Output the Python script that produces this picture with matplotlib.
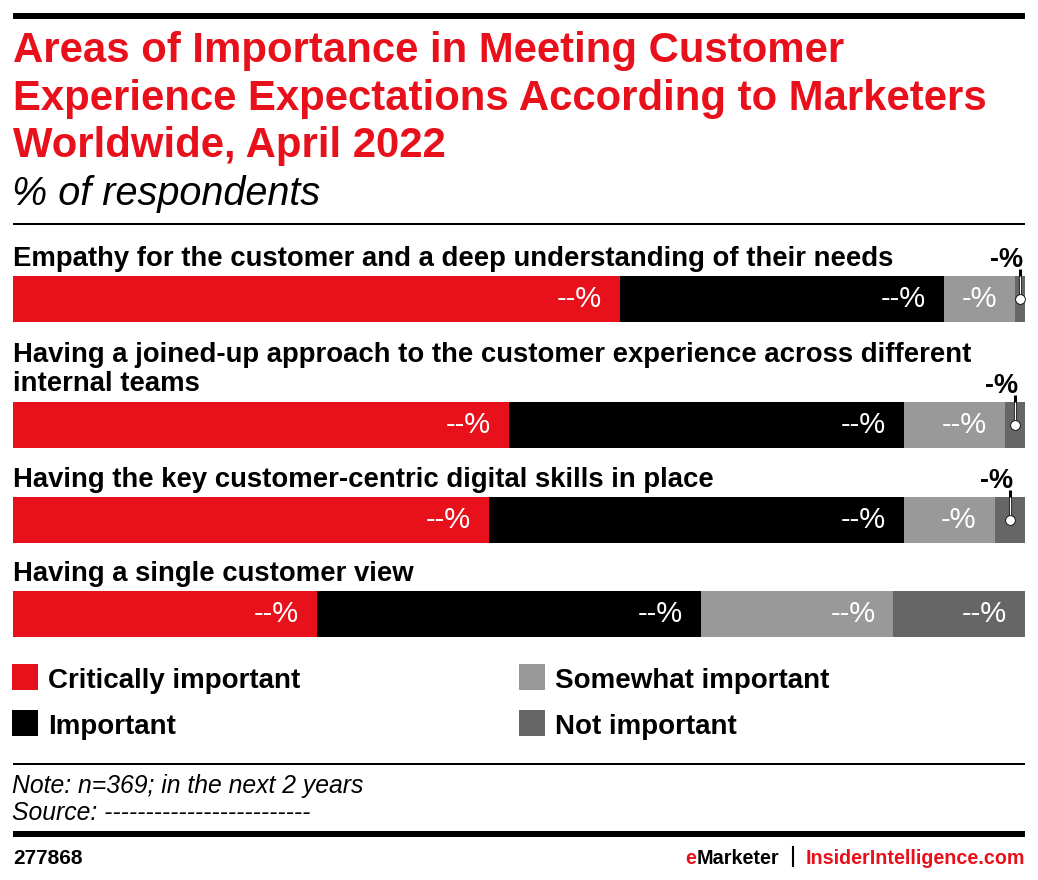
import matplotlib
matplotlib.use("Agg")
import matplotlib.pyplot as plt
import matplotlib.transforms as mtransforms
from matplotlib.patches import Rectangle

plt.rcParams["font.family"] = ["Liberation Sans", "DejaVu Sans"]

RED = "#e8101b"
COLORS = [RED, "#000000", "#999999", "#666666"]

title_lines = [
    "Areas of Importance in Meeting Customer",
    "Experience Expectations According to Marketers",
    "Worldwide, April 2022",
]
subtitle = "% of respondents"

categories = [
    "Empathy for the customer and a deep understanding of their needs",
    "Having a joined-up approach to the customer experience across different\ninternal teams",
    "Having the key customer-centric digital skills in place",
    "Having a single customer view",
]
series = ["Critically important", "Important", "Somewhat important", "Not important"]
critically = [60, 49, 47, 30]
important = [32, 39, 41, 38]
somewhat = [7, 10, 9, 19]
not_important = [1, 2, 3, 13]

note = "Note: n=369; in the next 2 years"
source = "Source: -------------------------"
chart_id = "277868"

W, H = 1038, 880
fig = plt.figure(figsize=(W / 100, H / 100), dpi=100)

# overlay in pixel coordinates for text and rules
ov = fig.add_axes([0, 0, 1, 1])
ov.set_xlim(0, W)
ov.set_ylim(H, 0)
ov.axis("off")


def rule(y, h):
    ov.add_patch(Rectangle((13, y), 1012, h, color="black", lw=0))


rule(13, 6)
rule(223, 2)
rule(763, 2)
rule(831, 6)

for line, yb in zip(title_lines, [62, 110, 157]):
    ov.text(13, yb, line, color=RED, fontsize=30.2, fontweight="bold", va="baseline")
ov.text(12, 205, subtitle, fontsize=28.5, fontstyle="italic", va="baseline")

# bar rows: label baseline, bar top (px)
label_y = [266, 362, 487, 581]
bar_top = [276, 402, 497, 591]
bar_h = 46

values = list(zip(critically, important, somewhat, not_important))

for i, cat in enumerate(categories):
    for j, line in enumerate(cat.split("\n")):
        ov.text(13, label_y[i] + j * 29, line, fontsize=19.8, fontweight="bold",
                va="baseline")

    ax = fig.add_axes([13 / W, 1 - (bar_top[i] + bar_h) / H, 1012 / W, bar_h / H])
    ax.set_xlim(0, 100)
    ax.set_ylim(0, 1)
    ax.axis("off")
    trans = mtransforms.blended_transform_factory(ax.transData, ax.transAxes)
    px = mtransforms.ScaledTranslation(-18 / 100, 0, fig.dpi_scale_trans)

    left = 0
    for k, v in enumerate(values[i]):
        ax.barh(0.5, v, left=left, height=1, color=COLORS[k], lw=0)
        lab = "-" * len(str(v)) + "%"
        if v >= 5:
            ax.text(left + v, 0.5, lab, color="white", fontsize=21,
                    ha="right", va="center", transform=ax.transData + px)
        else:
            # small value: label above the bar with a leader line
            cx = left + v / 2
            top = 1 + 7 / bar_h
            ax.plot([cx, cx], [0.5, top], color="black", lw=2.2,
                    transform=trans, clip_on=False, solid_capstyle="butt")
            ax.plot([cx, cx], [0.5, 1], color="white", lw=1.0,
                    transform=trans, clip_on=False, solid_capstyle="butt")
            ax.plot([cx], [0.5], "o", color="white", ms=7, mec="black", mew=0.6,
                    transform=trans, clip_on=False)
            shift = mtransforms.ScaledTranslation(-13 / 100, 0, fig.dpi_scale_trans)
            ax.text(cx, 1 + 9 / bar_h, lab, fontsize=19.5, fontweight="bold",
                    ha="center", va="baseline", transform=trans + shift,
                    clip_on=False)
        left += v

# legend
for k, (lx, ly) in enumerate([(12, 664), (12, 710), (519, 664), (519, 710)]):
    ov.add_patch(Rectangle((lx, ly), 26, 26, color=COLORS[k], lw=0))
    ov.text(lx + 36, ly + 24, series[k], fontsize=20, fontweight="bold",
            va="baseline")

ov.text(12, 793, note, fontsize=17.8, fontstyle="italic", va="baseline")
ov.text(12, 820, source, fontsize=17.8, fontstyle="italic", va="baseline")

ov.text(13, 864, chart_id, fontsize=15, fontweight="bold", va="baseline")
ov.text(1025, 864, "InsiderIntelligence.com", fontsize=14.2, fontweight="bold",
        color=RED, ha="right", va="baseline")
ov.plot([793, 793], [847, 866], color="black", lw=1.5)
mk = ov.text(779, 864, "Marketer", fontsize=14.2, fontweight="bold",
             ha="right", va="baseline")
ov.annotate("e", xy=(0, 0), xycoords=mk, fontsize=14.2, fontweight="bold",
            color=RED, ha="right", va="bottom")

fig.savefig("out.png", dpi=100)
